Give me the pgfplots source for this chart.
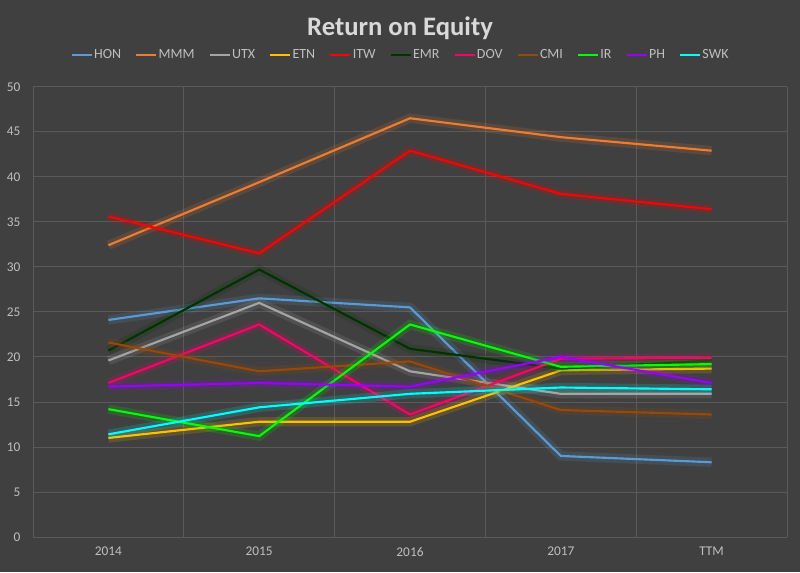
\documentclass[border=0pt]{standalone}
\usepackage{fontspec}
\setmainfont{Carlito}
\usepackage{pgfplots}
\usepackage{pgfplotstable}
\pgfplotsset{compat=1.18}

\definecolor{bg}{HTML}{404040}
\definecolor{gridc}{HTML}{5A5A5A}
\definecolor{txt}{HTML}{BFBFBF}
\definecolor{ttl}{HTML}{D9D9D9}
\definecolor{cHON}{HTML}{5B9BD5}
\definecolor{cMMM}{HTML}{ED7D31}
\definecolor{cUTX}{HTML}{A5A5A5}
\definecolor{cETN}{HTML}{FFC000}
\definecolor{cITW}{HTML}{FF0000}
\definecolor{cEMR}{HTML}{003300}
\definecolor{cDOV}{HTML}{FF0066}
\definecolor{cCMI}{HTML}{984807}
\definecolor{cIR}{HTML}{00FF00}
\definecolor{cPH}{HTML}{9900FF}
\definecolor{cSWK}{HTML}{00FFFF}

% return on equity, %
\pgfplotstableread{
x HON  MMM  UTX  ETN  ITW  EMR  DOV  CMI  IR   PH   SWK
0 24.1 32.4 19.6 11.0 35.6 20.7 17.1 21.6 14.2 16.7 11.4
1 26.5 39.4 26.0 12.8 31.5 29.7 23.6 18.4 11.2 17.1 14.4
2 25.5 46.5 18.4 12.8 42.9 20.9 13.6 19.5 23.6 16.7 15.9
3 9.0  44.4 15.9 18.5 38.1 18.7 19.8 14.1 18.9 20.0 16.6
4 8.3  42.9 15.9 18.7 36.4 19.6 19.9 13.6 19.2 17.1 16.4
}\roe

% glow underneath, then the line itself
\newcommand{\series}[1]{%
  \addplot[c#1, line width=7pt, opacity=0.16, forget plot] table[x=x,y=#1] {\roe};
  \addplot[c#1] table[x=x,y=#1] {\roe}; \addlegendentry{#1}}

\begin{document}
\begin{tikzpicture}
\fill[bg] (0,0) rectangle (600pt,429pt);
\node[font=\bfseries\fontsize{20}{22}\selectfont, text=ttl] at (300pt,408pt) {Return on Equity};
\begin{axis}[
    at={(24.75pt,26.25pt)}, anchor=south west,
    scale only axis,
    width=565.5pt, height=337.7pt,
    xmin=-0.5, xmax=4.5,
    ymin=0, ymax=50,
    xtick={0,1,2,3,4},
    xticklabels={2014,2015,2016,2017,TTM},
    minor xtick={-0.5,0.5,1.5,2.5,3.5,4.5},
    ytick={0,5,...,50},
    major tick length=0pt, minor tick length=0pt,
    xmajorgrids=false, xminorgrids=true, ymajorgrids=true,
    grid style={gridc, line width=0.6pt},
    minor grid style={gridc, line width=0.6pt},
    axis line style={draw=none},
    tick label style={font=\fontsize{10}{12}\selectfont, text=txt},
    /pgf/number format/assume math mode=true,
    yticklabel style={xshift=-6pt},
    xticklabel style={yshift=-4pt},
    legend style={at={(0.488,1.07)}, anchor=center, draw=none, fill=none,
        text=txt, font=\fontsize{10.5}{12}\selectfont, legend columns=-1,
        /tikz/every odd column/.append style={column sep=-1pt},
        /tikz/every even column/.append style={column sep=8.5pt}},
    legend image code/.code={\draw[line width=1.6pt] (0pt,0pt) -- (15pt,0pt);},
    every axis plot/.append style={no markers, line width=1.6pt},
]
\series{HON}
\series{MMM}
\series{UTX}
\series{ETN}
\series{ITW}
\series{EMR}
\series{DOV}
\series{CMI}
\series{IR}
\series{PH}
\series{SWK}
\end{axis}
\end{tikzpicture}
\end{document}
